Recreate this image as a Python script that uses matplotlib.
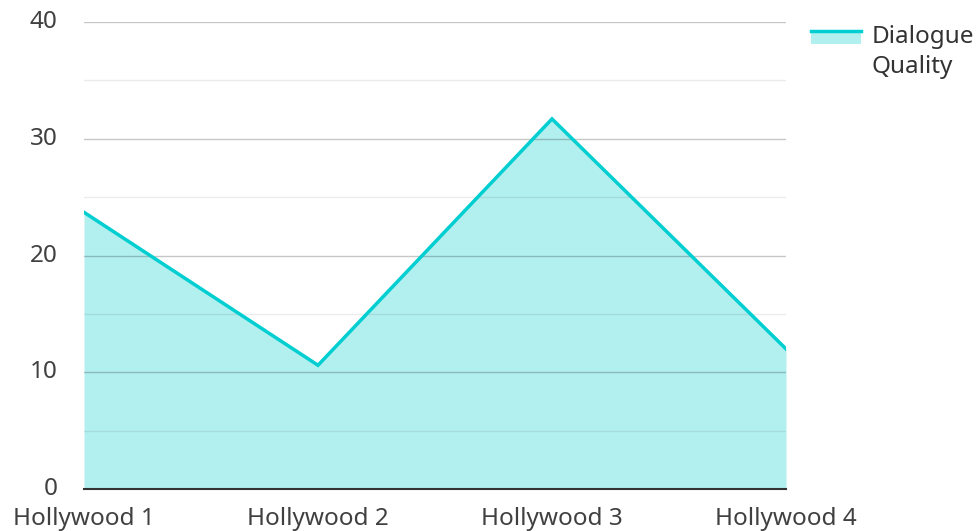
import numpy as np
import matplotlib.pyplot as plt
from matplotlib.patches import Rectangle
from matplotlib.lines import Line2D
from matplotlib.legend_handler import HandlerBase

# data
categories = ["Hollywood 1", "Hollywood 2", "Hollywood 3", "Hollywood 4"]
dialogue_quality = [23.7, 10.6, 31.7, 12.0]
series_name = "Dialogue\nQuality"

LINE_C = "#00CED1"
FILL_C = "#B2EFEF"
TEXT_C = "#404040"
FS = 17.5

plt.rcParams["font.family"] = ["Noto Sans", "DejaVu Sans"]


class AreaHandler(HandlerBase):
    # line on top edge of a light patch, like the reference legend
    def create_artists(self, legend, orig, xd, yd, w, h, fontsize, trans):
        shift = 14
        top = yd + h + shift
        rect = Rectangle((xd, yd + shift), w, h, fc=FILL_C, ec="none", transform=trans)
        ln = Line2D([xd, xd + w], [top, top], color=LINE_C, lw=2.5, transform=trans)
        return [rect, ln]


fig = plt.figure(figsize=(9.78, 5.31), dpi=100)
ax = fig.add_axes([84 / 978, 42 / 531, 702 / 978, 467 / 531])

x = np.arange(len(categories))
ax.fill_between(x, dialogue_quality, 0, color=FILL_C, lw=0, zorder=1)
ax.plot(x, dialogue_quality, color=LINE_C, lw=2.5, zorder=3, solid_joinstyle="miter")

ax.set_xlim(0, len(categories) - 1)
ax.set_ylim(0, 40)
ax.set_yticks(np.arange(0, 41, 10))
ax.set_yticks(np.arange(5, 40, 10), minor=True)
ax.grid(axis="y", which="major", color="#000000", alpha=0.22, lw=1, zorder=2)
ax.grid(axis="y", which="minor", color="#000000", alpha=0.08, lw=1, zorder=2)
ax.set_axisbelow(False)

ax.set_xticks(x)
ax.set_xticklabels(categories)
ax.tick_params(axis="both", which="both", length=0, labelsize=FS, colors=TEXT_C)
ax.tick_params(axis="x", pad=13)
ax.tick_params(axis="y", pad=19)
for lab in ax.get_yticklabels():
    lab.set_verticalalignment("center")

for s in ["top", "right", "left"]:
    ax.spines[s].set_visible(False)
ax.spines["bottom"].set_color("#333333")
ax.spines["bottom"].set_linewidth(1.5)
ax.spines["bottom"].set_zorder(4)

handle = Line2D([], [])
leg = fig.legend([handle], [series_name], handler_map={Line2D: AreaHandler()},
                 loc="upper left", bbox_to_anchor=(794 / 978, 1 - 8 / 531),
                 frameon=False, fontsize=FS, handlelength=2.05, handleheight=0.45,
                 handletextpad=0.45, labelcolor="#333333", borderpad=0.2)
for t in leg.get_texts():
    t.set_linespacing(1.35)

fig.savefig("out.png", dpi=100)
